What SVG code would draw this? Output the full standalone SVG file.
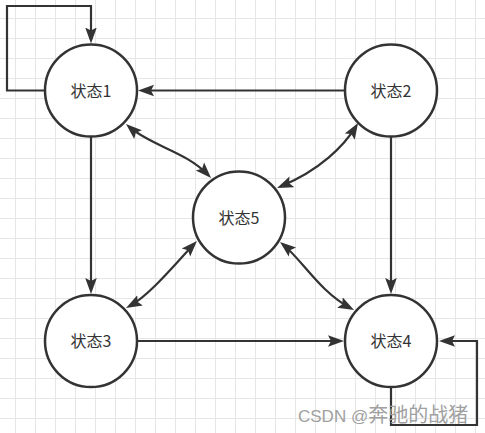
<svg xmlns="http://www.w3.org/2000/svg" width="485" height="433" viewBox="0 0 485 433">
<style>
.node circle{fill:#ffffff;stroke:#333333;stroke-width:2.5}
.node text{font-family:"Noto Sans CJK SC","Noto Sans",sans-serif;font-size:16px;fill:#333333;text-anchor:middle}
.edge{fill:none;stroke:#333333;stroke-width:2.2;stroke-linejoin:miter}
.one{marker-end:url(#arr)}
.two{marker-start:url(#arr);marker-end:url(#arr)}
.wm{font-family:"Liberation Sans","Noto Sans CJK SC",sans-serif;fill:#a0a0a0}
</style>
<defs>
<pattern id="grid" patternUnits="userSpaceOnUse" x="15" y="18" width="20" height="20">
<path d="M0.5,0 V20 M0,0.5 H20" fill="none" stroke="#e6e6e6" stroke-width="1"/>
</pattern>
<marker id="arr" markerUnits="userSpaceOnUse" markerWidth="20" markerHeight="14" viewBox="0 -7 20 14" refX="12" refY="0" orient="auto-start-reverse">
<path d="M16,0 L0,-5.8 L3,0 L0,5.8 Z" fill="#333333"/>
</marker>
</defs>
<rect width="485" height="433" fill="#ffffff"/>
<rect id="grid-bg" width="485" height="433" fill="url(#grid)"/>
<g id="state1" class="node"><circle cx="91" cy="90.5" r="46"/><text x="91" y="96.5">状态1</text></g>
<g id="state2" class="node"><circle cx="391" cy="90.5" r="46"/><text x="391" y="96.5">状态2</text></g>
<g id="state3" class="node"><circle cx="91" cy="341" r="46"/><text x="91" y="347">状态3</text></g>
<g id="state4" class="node"><circle cx="391" cy="341" r="46"/><text x="391" y="347">状态4</text></g>
<g id="state5" class="node"><circle cx="239" cy="217.5" r="46"/><text x="239" y="223.5">状态5</text></g>
<g id="connectors">
<path class="edge one" d="M45,90.5 L7,90.5 L7,6 L91,6 L91,39.5"/>
<path class="edge one" d="M345,90.5 L142,90.5"/>
<path class="edge one" d="M91,136.5 L91,290"/>
<path class="edge one" d="M391,136.5 L391,290"/>
<path class="edge one" d="M137,341 L340,341"/>
<path class="edge one" d="M391,387 L391,425 L477,425 L477,341 L443,341"/>
<path class="edge two" d="M129,126.7 C151,146 185,151 208.3,175.1"/>
<path class="edge two" d="M356,126.4 C344,146 320,170 280.7,186.4"/>
<path class="edge two" d="M194.2,243.8 C178,261 150,295 129.5,306.1"/>
<path class="edge two" d="M283.1,244.5 C302,260 320,292 350.5,308.1"/>
</g>
<text class="wm" x="298" y="421.5"><tspan font-size="17px">CSDN @</tspan><tspan font-size="20px" font-family="Noto Sans CJK SC, sans-serif">奔驰的战猪</tspan></text>
</svg>
